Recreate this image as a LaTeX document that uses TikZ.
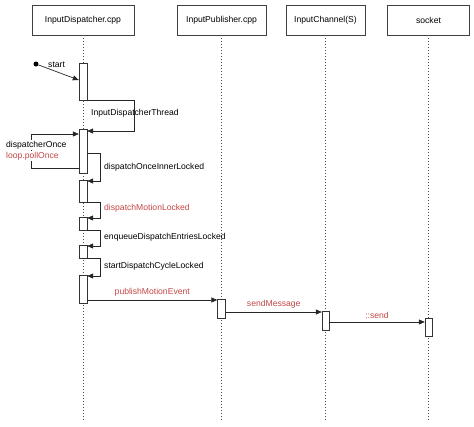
\documentclass[tikz,border=0pt]{standalone}
\usepackage{fontspec}
\setmainfont{Liberation Sans}
\usetikzlibrary{arrows.meta,positioning,calc}
\definecolor{callred}{RGB}{196,70,70}

\begin{document}
\begin{tikzpicture}[x=1pt,y=-1pt,>={Triangle[length=6pt,width=5pt]},
every node/.style={font=\fontsize{8.6}{10}\selectfont},
head/.style={draw=black!75,rectangle,minimum height=30pt,inner sep=0pt},
act/.style={draw=black!80,fill=white,rectangle,minimum width=8pt,inner sep=0pt,anchor=north},
life/.style={draw=black!70,dash pattern=on 1pt off 2pt,line width=0.8pt},
msg/.style={->,draw=black!85,line width=0.7pt},
lbl/.style={anchor=west,inner sep=1pt},
redlbl/.style={lbl,text=callred}]
\useasboundingbox (0,0) rectangle (474,426);
\node[head,minimum width=102pt] (dispatcher) at (83,20) {InputDispatcher.cpp};
\node[head,minimum width=89pt] (publisher) at (221.5,20) {InputPublisher.cpp};
\node[head,minimum width=79pt] (channel) at (325.5,20) {InputChannel(S)};
\node[head,minimum width=82pt] (socket) at (428.5,20) {socket};
\draw[life] (dispatcher.south) -- ++(0,385);
\draw[life] (publisher.south) -- ++(0,385);
\draw[life] (channel.south) -- ++(0,385);
\draw[life] (socket.south) -- ++(0,385);
\node[act,minimum height=37pt] (act1) at (83,63) {};
\node[act,minimum height=44pt] (act2) at (83,129) {};
\node[act,minimum height=22pt] (act3) at (83,180) {};
\node[act,minimum height=13pt] (act4) at (83,217) {};
\node[act,minimum height=13pt] (act5) at (83,245) {};
\node[act,minimum height=28pt] (act6) at (83,275) {};
\node[act,minimum height=19pt] (pub) at (221.5,299) {};
\node[act,minimum height=19pt,minimum width=7pt] (chan) at (325.5,311) {};
\node[act,minimum height=18pt,minimum width=7pt] (sock) at (428.5,318) {};
\node[circle,fill,inner sep=0pt,minimum size=5pt] (start) at (36,64) {};
\draw[msg] (start) -- ([yshift=-17pt]act1.north west);
\node[lbl] (startlbl) at (47,65) {start};
\draw[msg] (act1.south east) -- ++(47,0) |- ([yshift=-2pt]act2.north east);
\node[lbl] (threadlbl) at (90,113) {InputDispatcherThread};
\draw[msg] ([yshift=5pt]act2.south west) -- ++(-47,0) |- ([yshift=-5pt]act2.north west);
\node[lbl,fill=white] (oncelbl) at (5,145) {dispatcherOnce};
\node[redlbl,fill=white] (polllbl) at (5,156) {loop.pollOnce};
\draw[msg] ([yshift=-24pt]act2.north east) -- ++(13,0) |- ([yshift=-1pt]act3.north east);
\node[lbl] (innerlbl) at (103,167) {dispatchOnceInnerLocked};
\draw[msg] (act3.south east) -- ++(13,0) |- ([yshift=-1pt]act4.north east);
\node[redlbl] (motionlbl) at (103,208) {dispatchMotionLocked};
\draw[msg] (act4.south east) -- ++(13,0) |- ([yshift=-1pt]act5.north east);
\node[lbl] (enqueuelbl) at (103,237) {enqueueDispatchEntriesLocked};
\draw[msg] (act5.south east) -- ++(13,0) |- ([yshift=-1pt]act6.north east);
\node[lbl] (cyclelbl) at (103,266) {startDispatchCycleLocked};
\coordinate (m1) at ([yshift=-1pt]pub.north west);
\draw[msg] (act6.east |- m1) -- (m1) node[midway,above,text=callred] (publishlbl) {publishMotionEvent};
\coordinate (m2) at ([yshift=-1pt]chan.north west);
\draw[msg] (pub.east |- m2) -- (m2) node[midway,above,text=callred] (sendmsglbl) {sendMessage};
\coordinate (m3) at ([yshift=-4pt]sock.north west);
\draw[msg] (chan.east |- m3) -- (m3) node[midway,above,text=callred] (sendlbl) {::send};
\end{tikzpicture}
\end{document}
